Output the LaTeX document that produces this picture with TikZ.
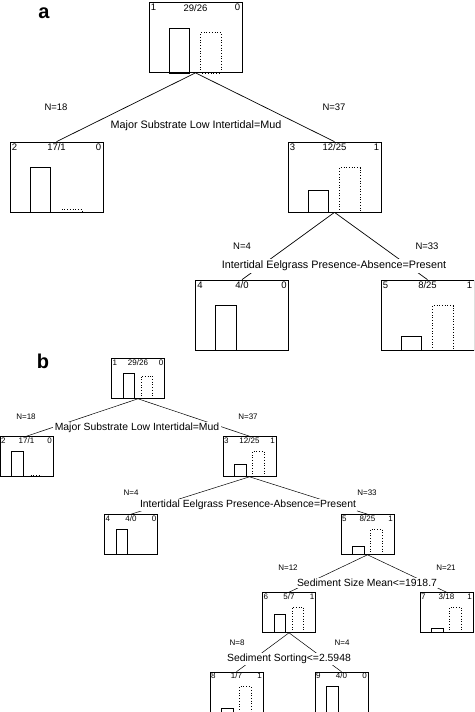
\documentclass[tikz,border=0pt]{standalone}
\usepackage{fontspec}
\setmainfont{Liberation Sans}
\usepackage{tikz}
\tikzset{treebox/.style={draw,rectangle,inner sep=0pt,line width=0.7pt}}
\tikzset{boxlabel/.style={inner sep=2pt,font=\fontsize{9.5}{10}\selectfont}}
\tikzset{nlabel/.style={inner sep=1pt,font=\fontsize{9.5}{10}\selectfont}}
\tikzset{splitlabel/.style={fill=white,inner sep=2pt,font=\fontsize{10.8}{12}\selectfont}}
\tikzset{branch/.style={line width=0.7pt}}
\tikzset{panel/.style={font=\fontsize{20}{22}\selectfont\bfseries}}
\newcommand{\boxw}{93}
\newcommand{\boxh}{70}
% #1 name, #2 centre, #3 number, #4/#5 counts, #6 class
\newcommand{\treenode}[6]{%
  \node[treebox,minimum width=\boxw,minimum height=\boxh] (#1) at #2 {};
  \node[boxlabel,anchor=north west] at (#1.north west) {#3};
  \node[boxlabel,anchor=north] at (#1.north) {#4/#5};
  \node[boxlabel,anchor=north east] at (#1.north east) {#6};
  \pgfmathsetmacro{\barz}{0.64*\boxh*#4/max(#4,#5)}
  \pgfmathsetmacro{\baro}{0.64*\boxh*#5/max(#4,#5)}
  \begin{scope}[shift={(#1.south west)}]
    \draw[line width=0.7pt] (0.22*\boxw,0) rectangle (0.44*\boxw,-\barz);
    \draw[dotted,line width=0.7pt] (0.56*\boxw,0) rectangle (0.78*\boxw,-\baro);
  \end{scope}
}
\begin{document}
\begin{tikzpicture}[x=1pt,y=-1pt]
    \useasboundingbox (0,0) rectangle (474,712);
    \clip (0,0) rectangle (474,712);
    % panel a
    \node[panel] (pa) at (44,13) {a};
    \treenode{a1}{(195.5,37.5)}{1}{29}{26}{0}
    \treenode{a2}{(56.5,177)}{2}{17}{1}{0}
    \treenode{a3}{(334.5,177)}{3}{12}{25}{1}
    \treenode{a4}{(242,315)}{4}{4}{0}{0}
    \treenode{a5}{(427.5,315)}{5}{8}{25}{1}
    \draw[branch] (a1.south) -- (a2.north);
    \draw[branch] (a1.south) -- (a3.north);
    \draw[branch] (a3.south) -- (a4.north);
    \draw[branch] (a3.south) -- (a5.north);
    \node[nlabel] at (56,107) {N=18};
    \node[nlabel] at (334,107) {N=37};
    \node[splitlabel] (sa1) at (196,126) {Major Substrate Low Intertidal=Mud};
    \node[nlabel] at (242,246) {N=4};
    \node[nlabel] at (427,246) {N=33};
    \node[splitlabel] (sa2) at (334,266) {Intertidal Eelgrass Presence-Absence=Present};

    % panel b
    \node[panel] (pb) at (43,361) {b};
    \begin{scope}[boxlabel/.append style={inner sep=1.2pt,font=\fontsize{8}{9}\selectfont},
                  nlabel/.append style={font=\fontsize{8}{9}\selectfont},
                  splitlabel/.append style={inner sep=1.5pt,font=\fontsize{10.4}{11}\selectfont},
                  branch/.append style={line width=0.5pt},
                  treebox/.append style={line width=0.6pt}]
    \renewcommand{\boxw}{53}
    \renewcommand{\boxh}{40}
    \treenode{b1}{(138,378.5)}{1}{29}{26}{0}
    \treenode{b2}{(26.5,456.5)}{2}{17}{1}{0}
    \treenode{b3}{(249.5,456.5)}{3}{12}{25}{1}
    \treenode{b4}{(131,534.5)}{4}{4}{0}{0}
    \treenode{b5}{(367.5,534.5)}{5}{8}{25}{1}
    \treenode{b6}{(289,612.5)}{6}{5}{7}{1}
    \treenode{b7}{(446.5,612.5)}{7}{3}{18}{1}
    \treenode{b8}{(236.5,692)}{8}{1}{7}{1}
    \treenode{b9}{(341.5,692)}{9}{4}{0}{0}
    \draw[branch] (b1.south) -- (b2.north);
    \draw[branch] (b1.south) -- (b3.north);
    \draw[branch] (b3.south) -- (b4.north);
    \draw[branch] (b3.south) -- (b5.north);
    \draw[branch] (b5.south) -- (b6.north);
    \draw[branch] (b5.south) -- (b7.north);
    \draw[branch] (b6.south) -- (b8.north);
    \draw[branch] (b6.south) -- (b9.north);
    \node[nlabel] at (26,417) {N=18};
    \node[nlabel] at (248,417) {N=37};
    \node[splitlabel] (sb1) at (137,428) {Major Substrate Low Intertidal=Mud};
    \node[nlabel] at (131,493) {N=4};
    \node[nlabel] at (367,493) {N=33};
    \node[splitlabel] (sb2) at (248,505) {Intertidal Eelgrass Presence-Absence=Present};
    \node[nlabel] at (288,568) {N=12};
    \node[nlabel] at (446,568) {N=21};
    \node[splitlabel] (sb3) at (367,583) {Sediment Size Mean<=1918.7};
    \node[nlabel] at (237,643) {N=8};
    \node[nlabel] at (342,643) {N=4};
    \node[splitlabel] (sb4) at (289,659) {Sediment Sorting<=2.5948};
    \end{scope}
\end{tikzpicture}
\end{document}
